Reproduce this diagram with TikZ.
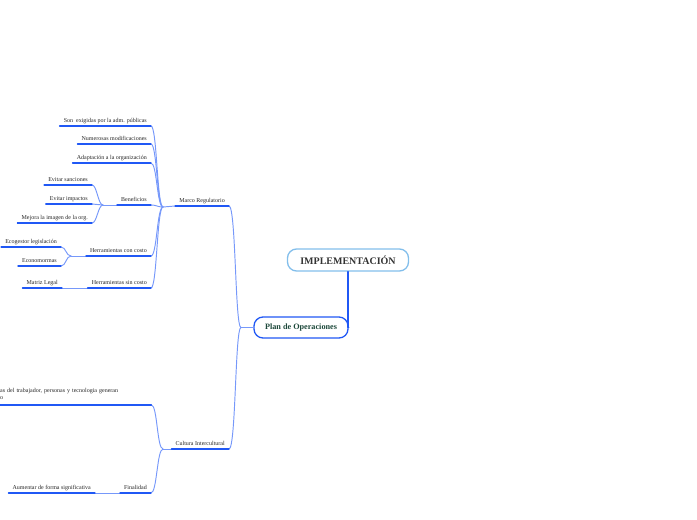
\documentclass[tikz,border=0pt]{standalone}
\usepackage{fontspec}
\setmainfont{Liberation Serif}
\definecolor{mmdark}{RGB}{32,88,245}
\definecolor{mmlight}{RGB}{118,152,250}
\definecolor{mmbox}{RGB}{130,190,235}
\definecolor{mmgreen}{RGB}{28,72,58}
\begin{document}
\begin{tikzpicture}[x=1pt,y=-1pt,line cap=round,line join=round,
	topic/.style={font=\fontsize{6}{7}\selectfont,text=black!85,anchor=south east,inner xsep=4pt,inner ysep=1.5pt,text height=4.2pt,text depth=1.5pt},
	under/.style={draw=mmdark,line width=1.3pt},
	link/.style={draw=mmlight,line width=0.95pt}]
	\useasboundingbox (0,0) rectangle (697,520);
	% centre
	\node[draw=mmbox,line width=1.3pt,rounded corners=9pt,minimum width=121pt,minimum height=22pt,font=\bfseries\fontsize{10}{12}\selectfont,text=black!80] (impl) at (348,260) {IMPLEMENTACIÓN};
	\node[draw=mmdark,line width=1.3pt,rounded corners=9pt,minimum width=94pt,minimum height=21pt,font=\bfseries\fontsize{8.2}{10}\selectfont,text=mmgreen] (plan) at (301,327.5) {Plan de Operaciones};
	\draw[draw=mmdark,line width=1.5pt] (impl.south) |- (plan.east);
	\coordinate (pfork) at (241,327.5);
	\draw[link,line width=1.2pt] (plan.west) -- (pfork);
	% marco regulatorio
	\node[topic] (mr) at (229,206) {Marco Regulatorio};
	\node[topic] (son) at (151,126) {Son~ exigidas por la adm. públicas};
	\node[topic] (num) at (151,144) {Numerosas modificaciones};
	\node[topic] (ada) at (151,163) {Adaptación a la organización};
	\node[topic] (ben) at (151,205) {Beneficios};
	\node[topic] (san) at (92,185) {Evitar sanciones};
	\node[topic] (imp) at (92,204) {Evitar impactos};
	\node[topic] (mej) at (92,223) {Mejora la imagen de la org.};
	\node[topic] (hcc) at (151,256) {Herramientas con costo};
	\node[topic] (eco) at (61,247) {Ecogestor legislación};
	\node[topic] (ecn) at (61,266) {Economormas};
	\node[topic] (hsc) at (151,288) {Herramientas sin costo};
	\node[topic] (mat) at (62,288) {Matriz Legal};
	\coordinate (mrfork) at (163,207);
	\coordinate (benfork) at (103,205);
	\coordinate (hccfork) at (71,256);
	% cultura intercultural
	\node[topic,anchor=south west,align=left,text width=149pt,inner xsep=2pt,inner ysep=5.5pt,text height=,text depth=] (cap) at (-2,405) {as del trabajador, personas y tecnologia generan\\o};
	\node[topic] (cul) at (229,449) {Cultura Intercultural};
	\node[topic] (fin) at (151,493) {Finalidad};
	\node[topic] (aum) at (95,493) {Aumentar de forma significativa};
	\coordinate (culfork) at (163,449);
	% connectors
	\foreach \n in {mr,cul}
		\draw[link] (pfork) .. controls +(-6,0) and +(7,0) .. (\n.south east);
	\foreach \n in {son,num,ada,ben,hcc,hsc}
		\draw[link] (mrfork) .. controls +(-6,0) and +(6,0) .. (\n.south east);
	\foreach \n in {san,imp,mej}
		\draw[link] (benfork) .. controls +(-5,0) and +(5,0) .. (\n.south east);
	\foreach \n in {eco,ecn}
		\draw[link] (hccfork) .. controls +(-5,0) and +(5,0) .. (\n.south east);
	\foreach \n in {cap,fin}
		\draw[link] (culfork) .. controls +(-6,0) and +(6,0) .. (\n.south east);
	\draw[link] (mrfork) -- (mr.south west);
	\draw[link] (benfork) -- (ben.south west);
	\draw[link] (hccfork) -- (hcc.south west);
	\draw[link] (culfork) -- (cul.south west);
	\draw[link] (mat.south east) -- (hsc.south west);
	\draw[link] (aum.south east) -- (fin.south west);
	% underlines
	\foreach \n in {mr,son,num,ada,ben,san,imp,mej,hcc,eco,ecn,hsc,mat,cul,cap,fin,aum}
		\draw[under] (\n.south west) -- (\n.south east);
\end{tikzpicture}
\end{document}
